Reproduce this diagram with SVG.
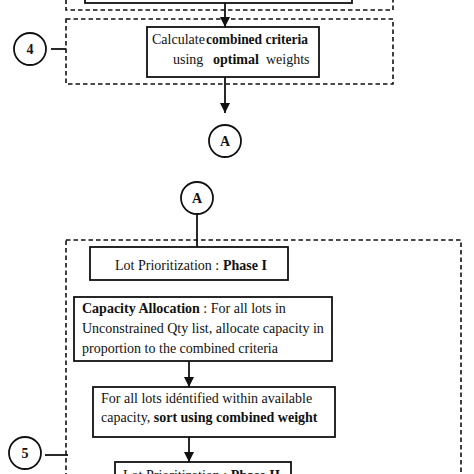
<svg xmlns="http://www.w3.org/2000/svg" width="474" height="474" viewBox="0 0 474 474">
<style>
text{font-family:"Liberation Serif","Times New Roman",serif;font-size:14px;fill:#111}
.b{font-weight:bold}
.box{fill:#fff;stroke:#111;stroke-width:1.8}
.dash{fill:none;stroke:#111;stroke-width:1.6;stroke-dasharray:4.5,3}
.circ{fill:#fff;stroke:#111;stroke-width:1.8}
.ln{stroke:#111;stroke-width:1.8;fill:none}
.cl{font-weight:bold;font-size:14px;text-anchor:middle}
</style>
<defs>
<marker id="ah" viewBox="0 0 10 10" refX="10" refY="5" markerWidth="10" markerHeight="10" markerUnits="userSpaceOnUse" orient="auto">
<path d="M0,0 L10,5 L0,10 z" fill="#111"/>
</marker>
</defs>
<rect width="474" height="474" fill="#fff"/>

<g id="section3">
<rect class="dash" x="66" y="-20" width="327" height="30"/>
<rect class="box" x="85" y="-20" width="267" height="23"/>
</g>

<g id="section4">
<rect class="dash" x="66" y="19" width="327" height="65"/>
</g>
<g id="node-combined">
<rect class="box" x="147" y="27" width="172" height="50"/>
<text x="152" y="44">Calculate</text>
<text class="b" x="206" y="44" textLength="102" lengthAdjust="spacingAndGlyphs">combined criteria</text>
<text x="173" y="64">using</text>
<text class="b" x="213" y="64">optimal</text>
<text x="266" y="64">weights</text>
</g>
<g id="label4">
<circle class="circ" cx="30" cy="49" r="16"/>
<text class="cl" x="30" y="54">4</text>
</g>
<g id="connA1">
<circle class="circ" cx="225" cy="141" r="16"/>
<text class="cl" x="225" y="146">A</text>
</g>

<g id="connA2">
<circle class="circ" cx="197" cy="198" r="16"/>
<text class="cl" x="197" y="203">A</text>
</g>
<g id="section5">
<rect class="dash" x="66" y="240" width="395" height="260"/>
</g>
<g id="node-phase1">
<rect class="box" x="90" y="247" width="198" height="33"/>
<text x="115" y="270">Lot Prioritization :</text>
<text class="b" x="223" y="270">Phase I</text>
</g>
<g id="node-capacity">
<rect class="box" x="74" y="297" width="258" height="64"/>
<text x="82" y="313"><tspan class="b">Capacity Allocation</tspan> : For all lots in</text>
<text x="82" y="333">Unconstrained Qty list, allocate capacity in</text>
<text x="82" y="353">proportion to the combined criteria</text>
</g>
<g id="node-sort">
<rect class="box" x="93" y="387" width="242" height="50"/>
<text x="101" y="403">For all lots idéntified within available</text>
<text x="101" y="422">capacity, <tspan class="b">sort using combined weight</tspan></text>
</g>
<g id="node-next">
<rect class="box" x="115" y="462" width="176" height="40"/>
<text x="123" y="480">Lot Prioritization : <tspan class="b">Phase II</tspan></text>
</g>
<g id="label5">
<circle class="circ" cx="25" cy="453" r="16"/>
<text class="cl" x="25" y="458">5</text>
</g>

<g id="connectors">
<line class="ln" x1="225" y1="3" x2="225" y2="27" marker-end="url(#ah)"/>
<line class="ln" x1="225" y1="77" x2="225" y2="113" marker-end="url(#ah)"/>
<line class="ln" x1="51" y1="49" x2="66" y2="49"/>
<line class="ln" x1="197" y1="214" x2="197" y2="247"/>
<line class="ln" x1="189" y1="361" x2="189" y2="387" marker-end="url(#ah)"/>
<line class="ln" x1="189" y1="437" x2="189" y2="462" marker-end="url(#ah)"/>
<line class="ln" x1="45" y1="455" x2="68" y2="455"/>
</g>
</svg>
